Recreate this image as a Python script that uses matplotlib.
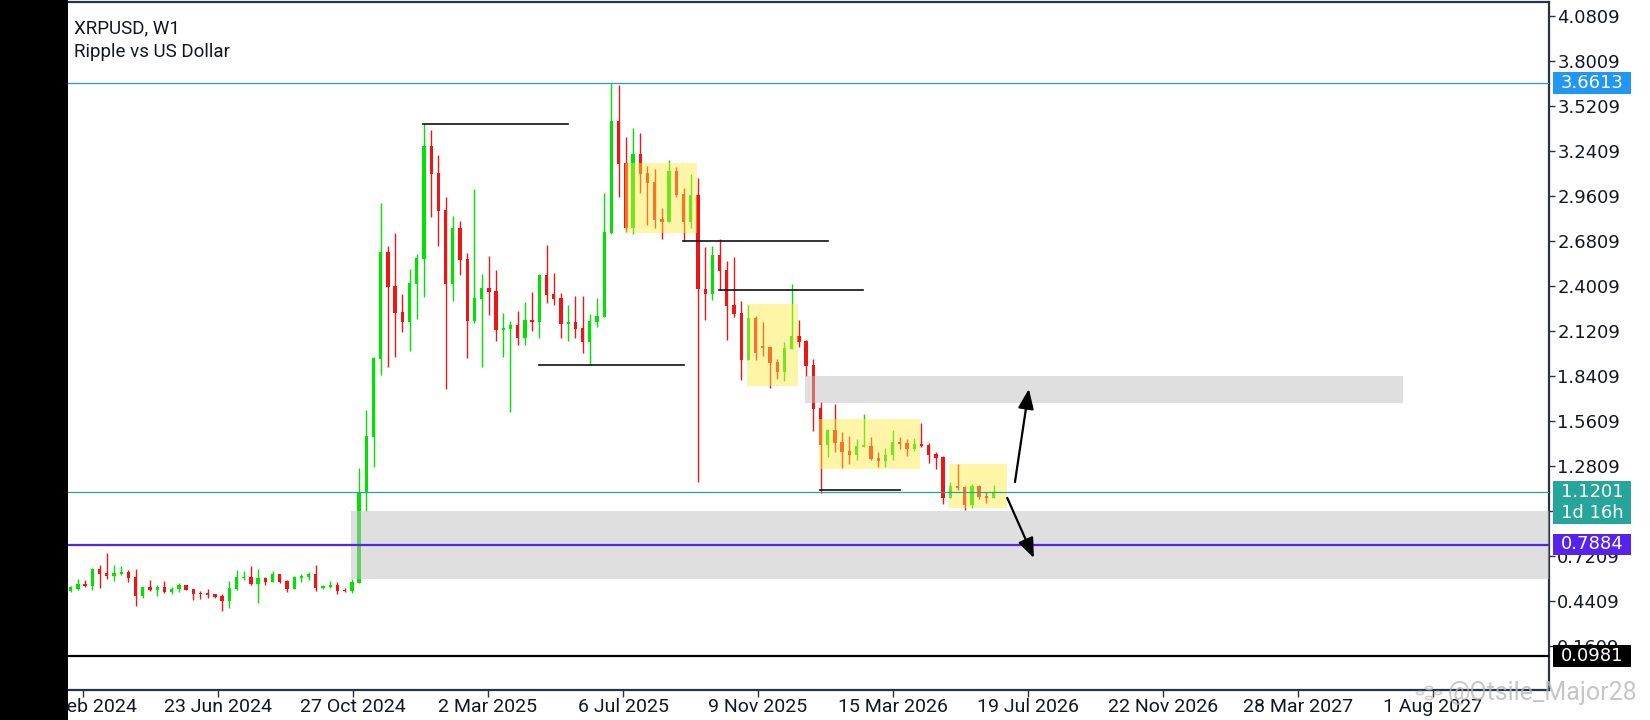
import matplotlib
matplotlib.use("Agg")
import matplotlib.pyplot as plt
import matplotlib.transforms as mtransforms
from matplotlib.patches import Rectangle

# weekly XRPUSD candles, oldest first
opens = [0.503, 0.513, 0.546, 0.534, 0.640, 0.615, 0.596, 0.609, 0.621, 0.590,
         0.472, 0.526, 0.509, 0.526, 0.497, 0.513, 0.540, 0.515, 0.490, 0.490,
         0.482, 0.472, 0.441, 0.515, 0.584, 0.590, 0.546, 0.584, 0.559, 0.609,
         0.565, 0.515, 0.584, 0.590, 0.609, 0.522, 0.528, 0.540, 0.509, 0.503,
         0.553, 1.117, 1.463, 1.949, 2.612, 2.401, 2.239, 2.179, 2.416, 2.569,
         3.272, 3.104, 2.873, 2.415, 2.762, 2.569, 2.185, 2.322, 2.388, 2.370,
         2.129, 2.135, 2.158, 2.079, 2.189, 2.179, 2.469, 2.351, 2.326, 2.166,
         2.179, 2.141, 2.054, 2.179, 2.210, 2.729, 3.428, 3.166, 2.764, 3.220,
         3.102, 3.046, 2.818, 2.801, 3.116, 2.971, 2.801, 2.967, 2.382, 2.353,
         2.594, 2.500, 2.282, 2.235, 1.942, 2.204, 2.029, 2.023, 1.930, 1.868,
         2.011, 2.092, 2.060, 1.911, 1.639, 1.411, 1.505, 1.430, 1.374, 1.349,
         1.401, 1.405, 1.330, 1.310, 1.349, 1.430, 1.424, 1.386, 1.418, 1.411,
         1.355, 1.339, 1.084, 1.152, 1.152, 1.038, 1.156, 1.094, 1.084]
highs = [0.534, 0.578, 0.571, 0.648, 0.665, 0.741, 0.665, 0.658, 0.634, 0.640,
         0.528, 0.571, 0.540, 0.565, 0.526, 0.553, 0.542, 0.517, 0.503, 0.515,
         0.484, 0.484, 0.565, 0.634, 0.627, 0.658, 0.640, 0.590, 0.627, 0.611,
         0.571, 0.596, 0.609, 0.621, 0.665, 0.540, 0.565, 0.559, 0.522, 0.578,
         1.266, 1.629, 1.961, 2.918, 2.650, 2.732, 2.351, 2.506, 2.600, 3.409,
         3.371, 3.216, 2.954, 2.836, 2.805, 2.606, 3.004, 2.475, 2.587, 2.500,
         2.233, 2.183, 2.245, 2.301, 2.363, 2.477, 2.658, 2.484, 2.359, 2.283,
         2.341, 2.341, 2.226, 2.326, 2.977, 3.666, 3.652, 3.328, 3.382, 3.353,
         3.145, 3.127, 2.886, 3.185, 3.141, 3.013, 3.098, 3.075, 2.643, 2.650,
         2.693, 2.556, 2.583, 2.309, 2.285, 2.216, 2.179, 2.029, 1.948, 2.054,
         2.415, 2.191, 2.067, 1.945, 1.677, 1.513, 1.666, 1.492, 1.467, 1.449,
         1.604, 1.461, 1.368, 1.393, 1.505, 1.461, 1.449, 1.455, 1.548, 1.424,
         1.368, 1.345, 1.181, 1.293, 1.158, 1.168, 1.164, 1.121, 1.164]
lows = [0.499, 0.509, 0.526, 0.509, 0.524, 0.580, 0.567, 0.602, 0.561, 0.410,
        0.459, 0.503, 0.474, 0.492, 0.486, 0.499, 0.507, 0.447, 0.455, 0.459,
        0.461, 0.378, 0.397, 0.509, 0.571, 0.540, 0.428, 0.540, 0.557, 0.552,
        0.497, 0.513, 0.559, 0.571, 0.503, 0.515, 0.522, 0.484, 0.497, 0.490,
        0.551, 1.001, 1.277, 1.848, 1.899, 1.961, 2.116, 1.998, 2.198, 2.334,
        2.832, 2.652, 1.762, 2.309, 2.471, 1.955, 2.173, 1.899, 2.222, 2.060,
        1.961, 1.614, 2.036, 2.036, 2.123, 2.079, 2.297, 2.285, 2.079, 2.060,
        2.079, 1.986, 1.907, 2.148, 2.205, 2.726, 2.957, 2.739, 2.726, 2.981,
        2.782, 2.764, 2.695, 2.799, 2.957, 2.679, 2.764, 1.181, 2.191, 2.316,
        2.378, 2.067, 2.210, 1.818, 1.940, 1.942, 1.967, 1.768, 1.824, 1.812,
        2.009, 2.023, 1.843, 1.500, 1.115, 1.339, 1.368, 1.270, 1.293, 1.318,
        1.399, 1.318, 1.274, 1.276, 1.318, 1.386, 1.345, 1.374, 1.399, 1.299,
        1.262, 1.046, 1.082, 1.131, 1.009, 1.021, 1.077, 1.052, 1.082]
closes = [0.526, 0.546, 0.534, 0.640, 0.609, 0.596, 0.615, 0.623, 0.586, 0.472,
          0.526, 0.509, 0.526, 0.497, 0.515, 0.540, 0.509, 0.484, 0.484, 0.476,
          0.463, 0.441, 0.522, 0.590, 0.590, 0.546, 0.584, 0.559, 0.609, 0.559,
          0.515, 0.590, 0.596, 0.609, 0.522, 0.534, 0.540, 0.503, 0.503, 0.559,
          1.121, 1.467, 1.955, 2.612, 2.397, 2.235, 2.179, 2.418, 2.575, 3.272,
          3.100, 2.869, 2.415, 2.762, 2.565, 2.185, 2.326, 2.388, 2.363, 2.129,
          2.141, 2.158, 2.079, 2.189, 2.177, 2.469, 2.347, 2.322, 2.166, 2.179,
          2.135, 2.054, 2.185, 2.212, 2.735, 3.428, 3.162, 2.764, 3.220, 3.100,
          3.044, 2.814, 2.801, 3.116, 2.965, 2.801, 2.967, 2.380, 2.353, 2.594,
          2.496, 2.278, 2.228, 1.942, 2.204, 1.986, 2.017, 1.924, 1.868, 2.017,
          2.092, 2.054, 1.905, 1.637, 1.411, 1.505, 1.426, 1.370, 1.349, 1.405,
          1.405, 1.324, 1.310, 1.349, 1.430, 1.418, 1.386, 1.418, 1.405, 1.349,
          1.333, 1.084, 1.156, 1.146, 1.038, 1.156, 1.090, 1.084, 1.1201]

# right price scale (1.0009 sits hidden under the live price tag)
price_ticks = [4.0809, 3.8009, 3.5209, 3.2409, 2.9609, 2.6809, 2.4009, 2.1209,
               1.8409, 1.5609, 1.2809, 1.0009, 0.7209, 0.4409, 0.1609]
hidden_ticks = [1.0009]

# time scale labels
date_labels = ["18 Feb 2024", "23 Jun 2024", "27 Oct 2024", "2 Mar 2025",
               "6 Jul 2025", "9 Nov 2025", "15 Mar 2026", "19 Jul 2026",
               "22 Nov 2026", "28 Mar 2027", "1 Aug 2027"]

# yellow consolidation boxes: (bar start, bar end, low, high)
yellow_boxes = [(76.9, 86.9, 2.730, 3.166),
                (93.8, 100.9, 1.778, 2.289),
                (103.8, 117.8, 1.262, 1.573),
                (121.8, 129.9, 1.019, 1.293)]
# grey zones: (bar start, bar end, low, high)
grey_zones = [(101.8, 184.8, 1.673, 1.841),
              (38.9, 206.0, 0.578, 1.000)]
# black structure lines: (bar start, bar end, price)
struct_lines = [(48.9, 69.0, 3.409),
                (64.95, 85.1, 1.909),
                (84.9, 105.0, 2.681),
                (89.9, 109.9, 2.376),
                (103.9, 115.0, 1.131)]
# arrows: (bar from, price from, bar to, price to)
arrows = [(130.97, 1.181, 132.9, 1.760),
          (129.9, 1.082, 133.6, 0.708)]

# horizontal levels with their price tags
ath_level = 3.6613
last_close = 1.1201
purple_level = 0.7884
low_level = 0.0981

GREEN = "#00e300"
RED = "#ee1515"
W, H = 1650, 720

fig = plt.figure(figsize=(W / 100, H / 100), dpi=100)
ax = fig.add_axes([68 / W, 30 / H, (1549 - 68) / W, (718 - 30) / H])
ax.set_xlim(-0.374, 205.04)
ax.set_ylim(-0.1133, 4.168)

for i, (o, h, l, c) in enumerate(zip(opens, highs, lows, closes)):
    col = GREEN if c >= o else RED
    ax.vlines(i, l, h, color=col, lw=1.0, zorder=2)
    ax.bar(i, max(abs(c - o), 0.008), bottom=min(o, c), width=0.46,
           color=col, linewidth=0, zorder=3)

for x0, x1, lo, hi in yellow_boxes:
    ax.add_patch(Rectangle((x0, lo), x1 - x0, hi - lo, facecolor="#ffeb3b",
                           alpha=0.45, linewidth=0, zorder=4))
for x0, x1, lo, hi in grey_zones:
    ax.add_patch(Rectangle((x0, lo), x1 - x0, hi - lo, facecolor="#c0c0c0",
                           alpha=0.5, linewidth=0, zorder=4))

for x0, x1, p in struct_lines:
    ax.plot([x0, x1], [p, p], color="#111111", lw=1.2, zorder=5)

for xa, ya, xb, yb in arrows:
    ax.annotate("", xy=(xb, yb), xytext=(xa, ya), zorder=6,
                arrowprops=dict(arrowstyle="-|>,head_length=0.75,head_width=0.3",
                                mutation_scale=16, color="black", lw=1.6,
                                shrinkA=0, shrinkB=0))

ax.axhline(ath_level, color="#2196f3", lw=0.9, zorder=5)
ax.axhline(last_close, color="#26a69a", lw=0.9, zorder=5)
ax.axhline(purple_level, color="#5522ee", lw=1.6, zorder=5)
ax.axhline(low_level, color="black", lw=1.6, zorder=5)

# axes styling
for side in ["top", "right", "bottom"]:
    ax.spines[side].set_color("#2b3240")
    ax.spines[side].set_linewidth(1.6)
ax.spines["left"].set_visible(False)

ax.yaxis.tick_right()
ax.set_yticks(price_ticks)
ax.set_yticklabels(["" if p in hidden_ticks else f"{p:.4f}" for p in price_ticks],
                   family="DejaVu Sans", fontsize=13, color="#131722")
ax.tick_params(axis="y", direction="out", length=4, width=1, pad=2,
               color="#2b3240")

tick0 = (83 - 70.7) / 7.21
tick_step = 135 / 7.21
ax.set_xticks([tick0 + k * tick_step for k in range(len(date_labels))])
ax.set_xticklabels(date_labels, family="Roboto", fontsize=14, color="#131722")
ax.tick_params(axis="x", direction="out", length=5, width=1, pad=1,
               color="#2b3240")

# price tags on the right scale
trans = mtransforms.blended_transform_factory(fig.transFigure, ax.transData)
px = 160.7
tags = [(ath_level, 22, "#2196f3", [f"{ath_level:.4f}"]),
        (last_close - 0.067, 43, "#26a69a", [f"{last_close:.4f}", "1d 16h"]),
        (purple_level + 0.004, 21, "#5522ee", [f"{purple_level:.4f}"]),
        (low_level, 22, "black", [f"{low_level:.4f}"])]
for center, hpx, col, lines in tags:
    hh = hpx / px
    ax.add_patch(Rectangle((1553 / W, center - hh / 2), 78 / W, hh,
                           transform=trans, facecolor=col, linewidth=0,
                           clip_on=False, zorder=10))
    n = len(lines)
    for k, s in enumerate(lines):
        yy = center + (hh / 2) * ((n - 1 - 2 * k) / n) if n > 1 else center
        ax.text(1592 / W, yy, s, transform=trans, ha="center", va="center",
                color="white", fontsize=13, family="DejaVu Sans",
                clip_on=False, zorder=11)

# left black strip and header
fig.add_artist(Rectangle((0, 0), 68 / W, 1, transform=fig.transFigure,
                         facecolor="black", linewidth=0, zorder=100))
fig.text(74 / W, 1 - 33 / H, "XRPUSD, W1", family="Roboto", fontsize=13.5,
         color="#131722", va="baseline", zorder=101)
fig.text(74 / W, 1 - 57 / H, "Ripple vs US Dollar", family="Roboto",
         fontsize=13.5, color="#131722", va="baseline", zorder=101)

# watermark with a small chain icon
for dx, dy in [(0, 0), (9, 5), (9, -5), (18, 0)]:
    fig.add_artist(plt.Circle(((1420 + dx) / W, 1 - (693 + dy) / H), 3.5 / W,
                              transform=fig.transFigure, fill=False,
                              edgecolor="#c4c4c4", lw=1.2, alpha=0.8, zorder=101))
fig.text(1448 / W, 1 - 693 / H, "@Otsile_Major28", family="Roboto",
         fontsize=18, color="#b8b8b8", alpha=0.8, va="center", zorder=101)

fig.savefig("out.png", dpi=100, facecolor="white")
